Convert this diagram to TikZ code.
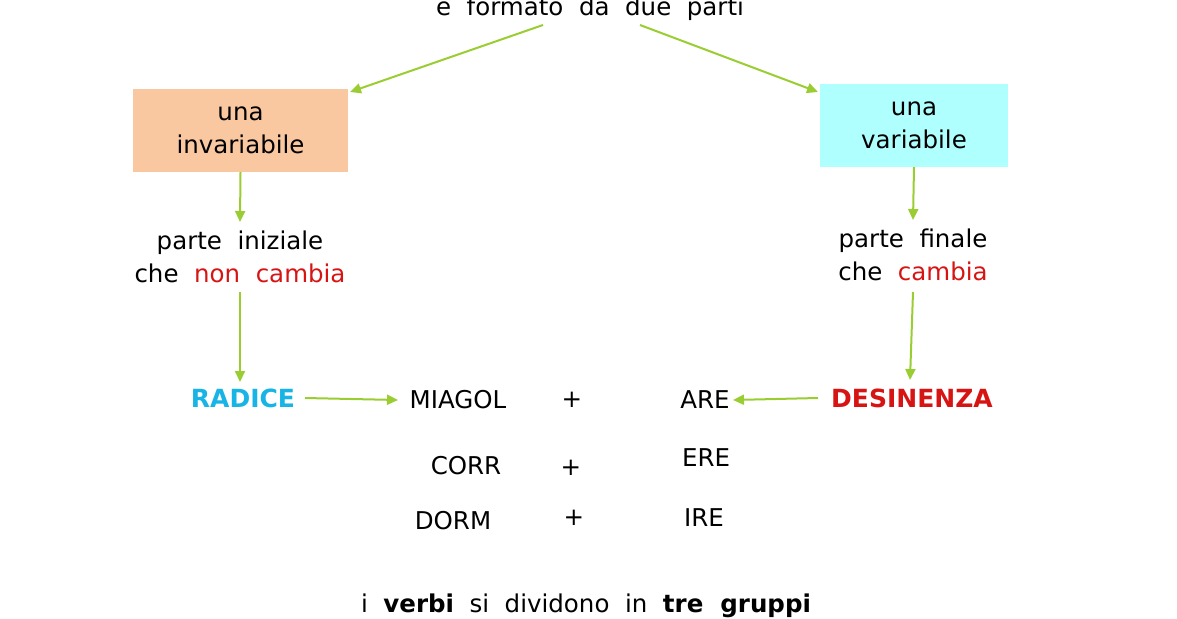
\documentclass[tikz,border=0pt]{standalone}
\usepackage{fontspec}
\setmainfont{DejaVu Sans}
\usetikzlibrary{arrows.meta}
\definecolor{arr}{RGB}{154,205,50}
\definecolor{peach}{RGB}{250,200,160}
\definecolor{aqua}{RGB}{175,255,255}
\definecolor{cy}{RGB}{25,180,230}
\definecolor{rd}{RGB}{215,20,20}
\tikzset{
 arrow/.style={draw=arr,line width=2pt,-{Triangle[length=11pt,width=10pt]}},
 txt/.style={font=\fontsize{24.5}{33}\selectfont,align=center,inner sep=0pt},
 box/.style={txt,draw=none,minimum height=83pt}
}
\begin{document}
\begin{tikzpicture}[x=1pt,y=-1pt]
\useasboundingbox (0,0) rectangle (1177,618);
\node[txt] (top) at (590,8) {è\ \ formato\ \ da\ \ due\ \ parti};
\node[box,fill=peach,minimum width=215pt] (inv) at (240.5,130.5) {una\\invariabile};
\node[box,fill=aqua,minimum width=188pt] (var) at (914,125.5) {una\\variabile};
\node[txt] (pi) at (240,257) {parte\ \ iniziale\\che\ \ \textcolor{rd}{non\ \ cambia}};
\node[txt] (pf) at (913,255) {parte\ \ finale\\che\ \ \textcolor{rd}{cambia}};
\node[txt,font=\fontsize{25}{30}\selectfont\bfseries,text=cy] (rad) at (243,398) {RADICE};
\node[txt,font=\fontsize{25}{30}\selectfont\bfseries,text=rd] (des) at (912,398) {DESINENZA};
\node[txt] (m) at (458,400) {MIAGOL};
\node[txt] (p1) at (572,400) {+};
\node[txt] (are) at (705,400) {ARE};
\node[txt] (c) at (466,466) {CORR};
\node[txt] (p2) at (571,468) {+};
\node[txt] (ere) at (706,458) {ERE};
\node[txt] (d) at (453,521) {DORM};
\node[txt] (p3) at (574,518) {+};
\node[txt] (ire) at (704,518) {IRE};
\node[txt] (bot) at (586,606) {i\ \ \textbf{verbi}\ \ si\ \ dividono\ \ in\ \ \textbf{tre\ \ gruppi}};
\coordinate (t1) at (543,25); \coordinate (t2) at (640,25);
\coordinate (ra) at (305,398); \coordinate (de) at (818,398);
\draw[arrow] (t1) -- (350,92);
\draw[arrow] (t2) -- (818,92);
\draw[arrow] (inv.south) -- (240,222);
\draw[arrow] (var.south) -- (913,220);
\draw[arrow] (240,292) -- (240,382);
\draw[arrow] (913,292) -- (910,380);
\draw[arrow] (ra) -- (398,400);
\draw[arrow] (de) -- (733,400);
\end{tikzpicture}
\end{document}
